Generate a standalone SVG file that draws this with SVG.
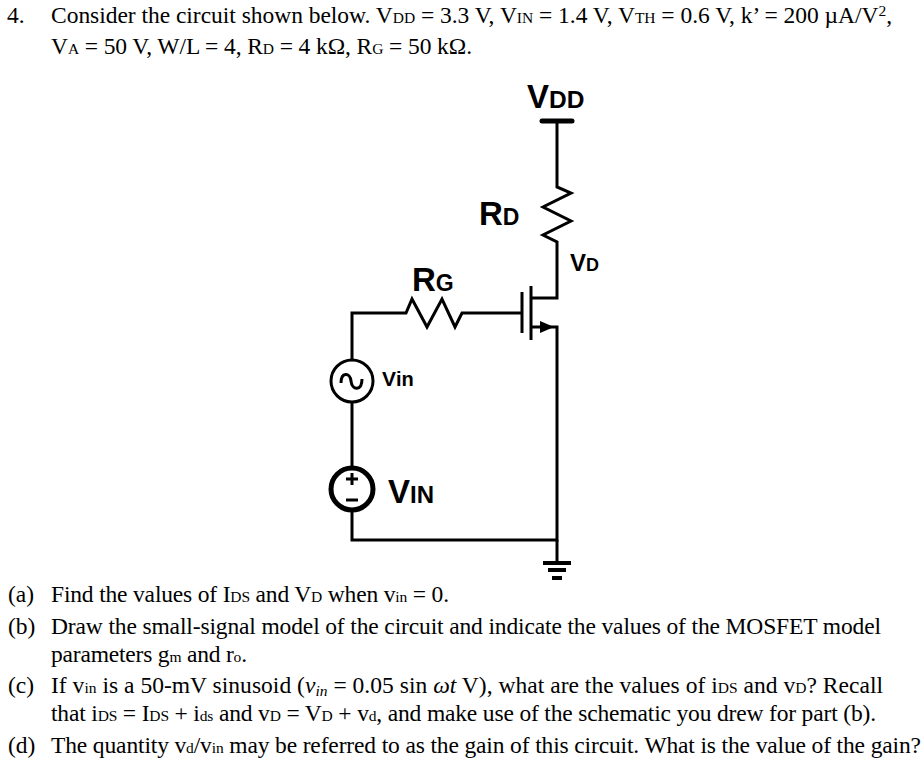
<svg xmlns="http://www.w3.org/2000/svg" width="924" height="774" viewBox="0 0 924 774">
<style>
.t{font-family:"Liberation Serif","Times New Roman",serif;font-size:23.5px;fill:#000}
.s{font-size:15.5px}
.l{font-family:"Liberation Sans",Arial,sans-serif;font-weight:bold;fill:#000}
.w{fill:none;stroke:#000;stroke-width:3}
</style>
<rect width="924" height="774" fill="#fff"/>
<g id="problem-text">
<text class="t" x="7" y="23">4.</text>
<text class="t" x="51" y="23" textLength="841">Consider the circuit shown below. V<tspan class="s">DD</tspan> = 3.3 V, V<tspan class="s">IN</tspan> = 1.4 V, V<tspan class="s">TH</tspan> = 0.6 V, k’ = 200 µA/V<tspan class="s" dy="-7">2</tspan><tspan dy="7">,</tspan></text>
<text class="t" x="51" y="54" textLength="421">V<tspan class="s">A</tspan> = 50 V, W/L = 4, R<tspan class="s">D</tspan> = 4 kΩ, R<tspan class="s">G</tspan> = 50 kΩ.</text>
<text class="t" x="8" y="602">(a)</text>
<text class="t" x="51" y="602" textLength="398">Find the values of I<tspan class="s">DS</tspan> and V<tspan class="s">D</tspan> when v<tspan class="s">in</tspan> = 0.</text>
<text class="t" x="8" y="634">(b)</text>
<text class="t" x="51" y="634" textLength="830">Draw the small-signal model of the circuit and indicate the values of the MOSFET model</text>
<text class="t" x="51" y="662" textLength="196">parameters g<tspan class="s">m</tspan> and r<tspan class="s">o</tspan>.</text>
<text class="t" x="8" y="693">(c)</text>
<text class="t" x="51" y="693" textLength="832">If v<tspan class="s">in</tspan> is a 50-mV sinusoid (<tspan font-style="italic">v</tspan><tspan font-style="italic" class="s" dy="3">in</tspan><tspan dy="-3"> = 0.05 sin </tspan><tspan font-style="italic">ωt</tspan> V), what are the values of i<tspan class="s">DS</tspan> and v<tspan class="s">D</tspan>? Recall</text>
<text class="t" x="51" y="721" textLength="825">that i<tspan class="s">DS</tspan> = I<tspan class="s">DS</tspan> + i<tspan class="s">ds</tspan> and v<tspan class="s">D</tspan> = V<tspan class="s">D</tspan> + v<tspan class="s">d</tspan>, and make use of the schematic you drew for part (b).</text>
<text class="t" x="8" y="753">(d)</text>
<text class="t" x="51" y="753" textLength="870">The quantity v<tspan class="s">d</tspan>/v<tspan class="s">in</tspan> may be referred to as the gain of this circuit. What is the value of the gain?</text>
</g>
<g id="connectors">
<path class="w" d="M557 121V187L571 193L543 207L571 221L543 235L557 242V298H532"/>
<path class="w" d="M532 327H557V540H352V503"/>
<path class="w" d="M522 313H462L455 327L442 299L427 327L412 299L406 313H352V360"/>
<path class="w" d="M352 402V467"/>
<path class="w" d="M557 540V563"/>
</g>
<g id="vdd">
<path d="M542 121H572" stroke="#000" stroke-width="5" stroke-linecap="round"/>
<text class="l" x="527" y="108" font-size="33">V<tspan font-size="24.5">DD</tspan></text>
</g>
<g id="rd"><text class="l" x="479" y="225" font-size="33">R<tspan font-size="23">D</tspan></text></g>
<g id="vd"><text class="l" x="570" y="271" font-size="24">V<tspan font-size="18">D</tspan></text></g>
<g id="rg"><text class="l" x="412" y="291" font-size="33">R<tspan font-size="23">G</tspan></text></g>
<g id="mosfet">
<path class="w" d="M531 286V340M522 292V333"/>
<path d="M540 321L554 327L540 333Z" fill="#000"/>
</g>
<g id="vin-source">
<circle cx="352" cy="381" r="21" fill="#fff" stroke="#000" stroke-width="3"/>
<path class="w" d="M341 383C341 372 350 372 351 381C352 391 362 391 362 379"/>
<text class="l" x="382" y="386" font-size="21">V<tspan font-size="20">in</tspan></text>
</g>
<g id="vin-dc">
<circle cx="352" cy="489" r="21" fill="#fff" stroke="#000" stroke-width="5"/>
<path class="w" d="M346 479H358M352 473V485M346 500H358"/>
<text class="l" x="388" y="503" font-size="33">V<tspan font-size="24">IN</tspan></text>
</g>
<g id="ground">
<path d="M543 563H571" stroke="#000" stroke-width="4"/>
<path d="M548 570H566" stroke="#000" stroke-width="4"/>
<path d="M552 578H562" stroke="#000" stroke-width="4"/>
</g>
</svg>
